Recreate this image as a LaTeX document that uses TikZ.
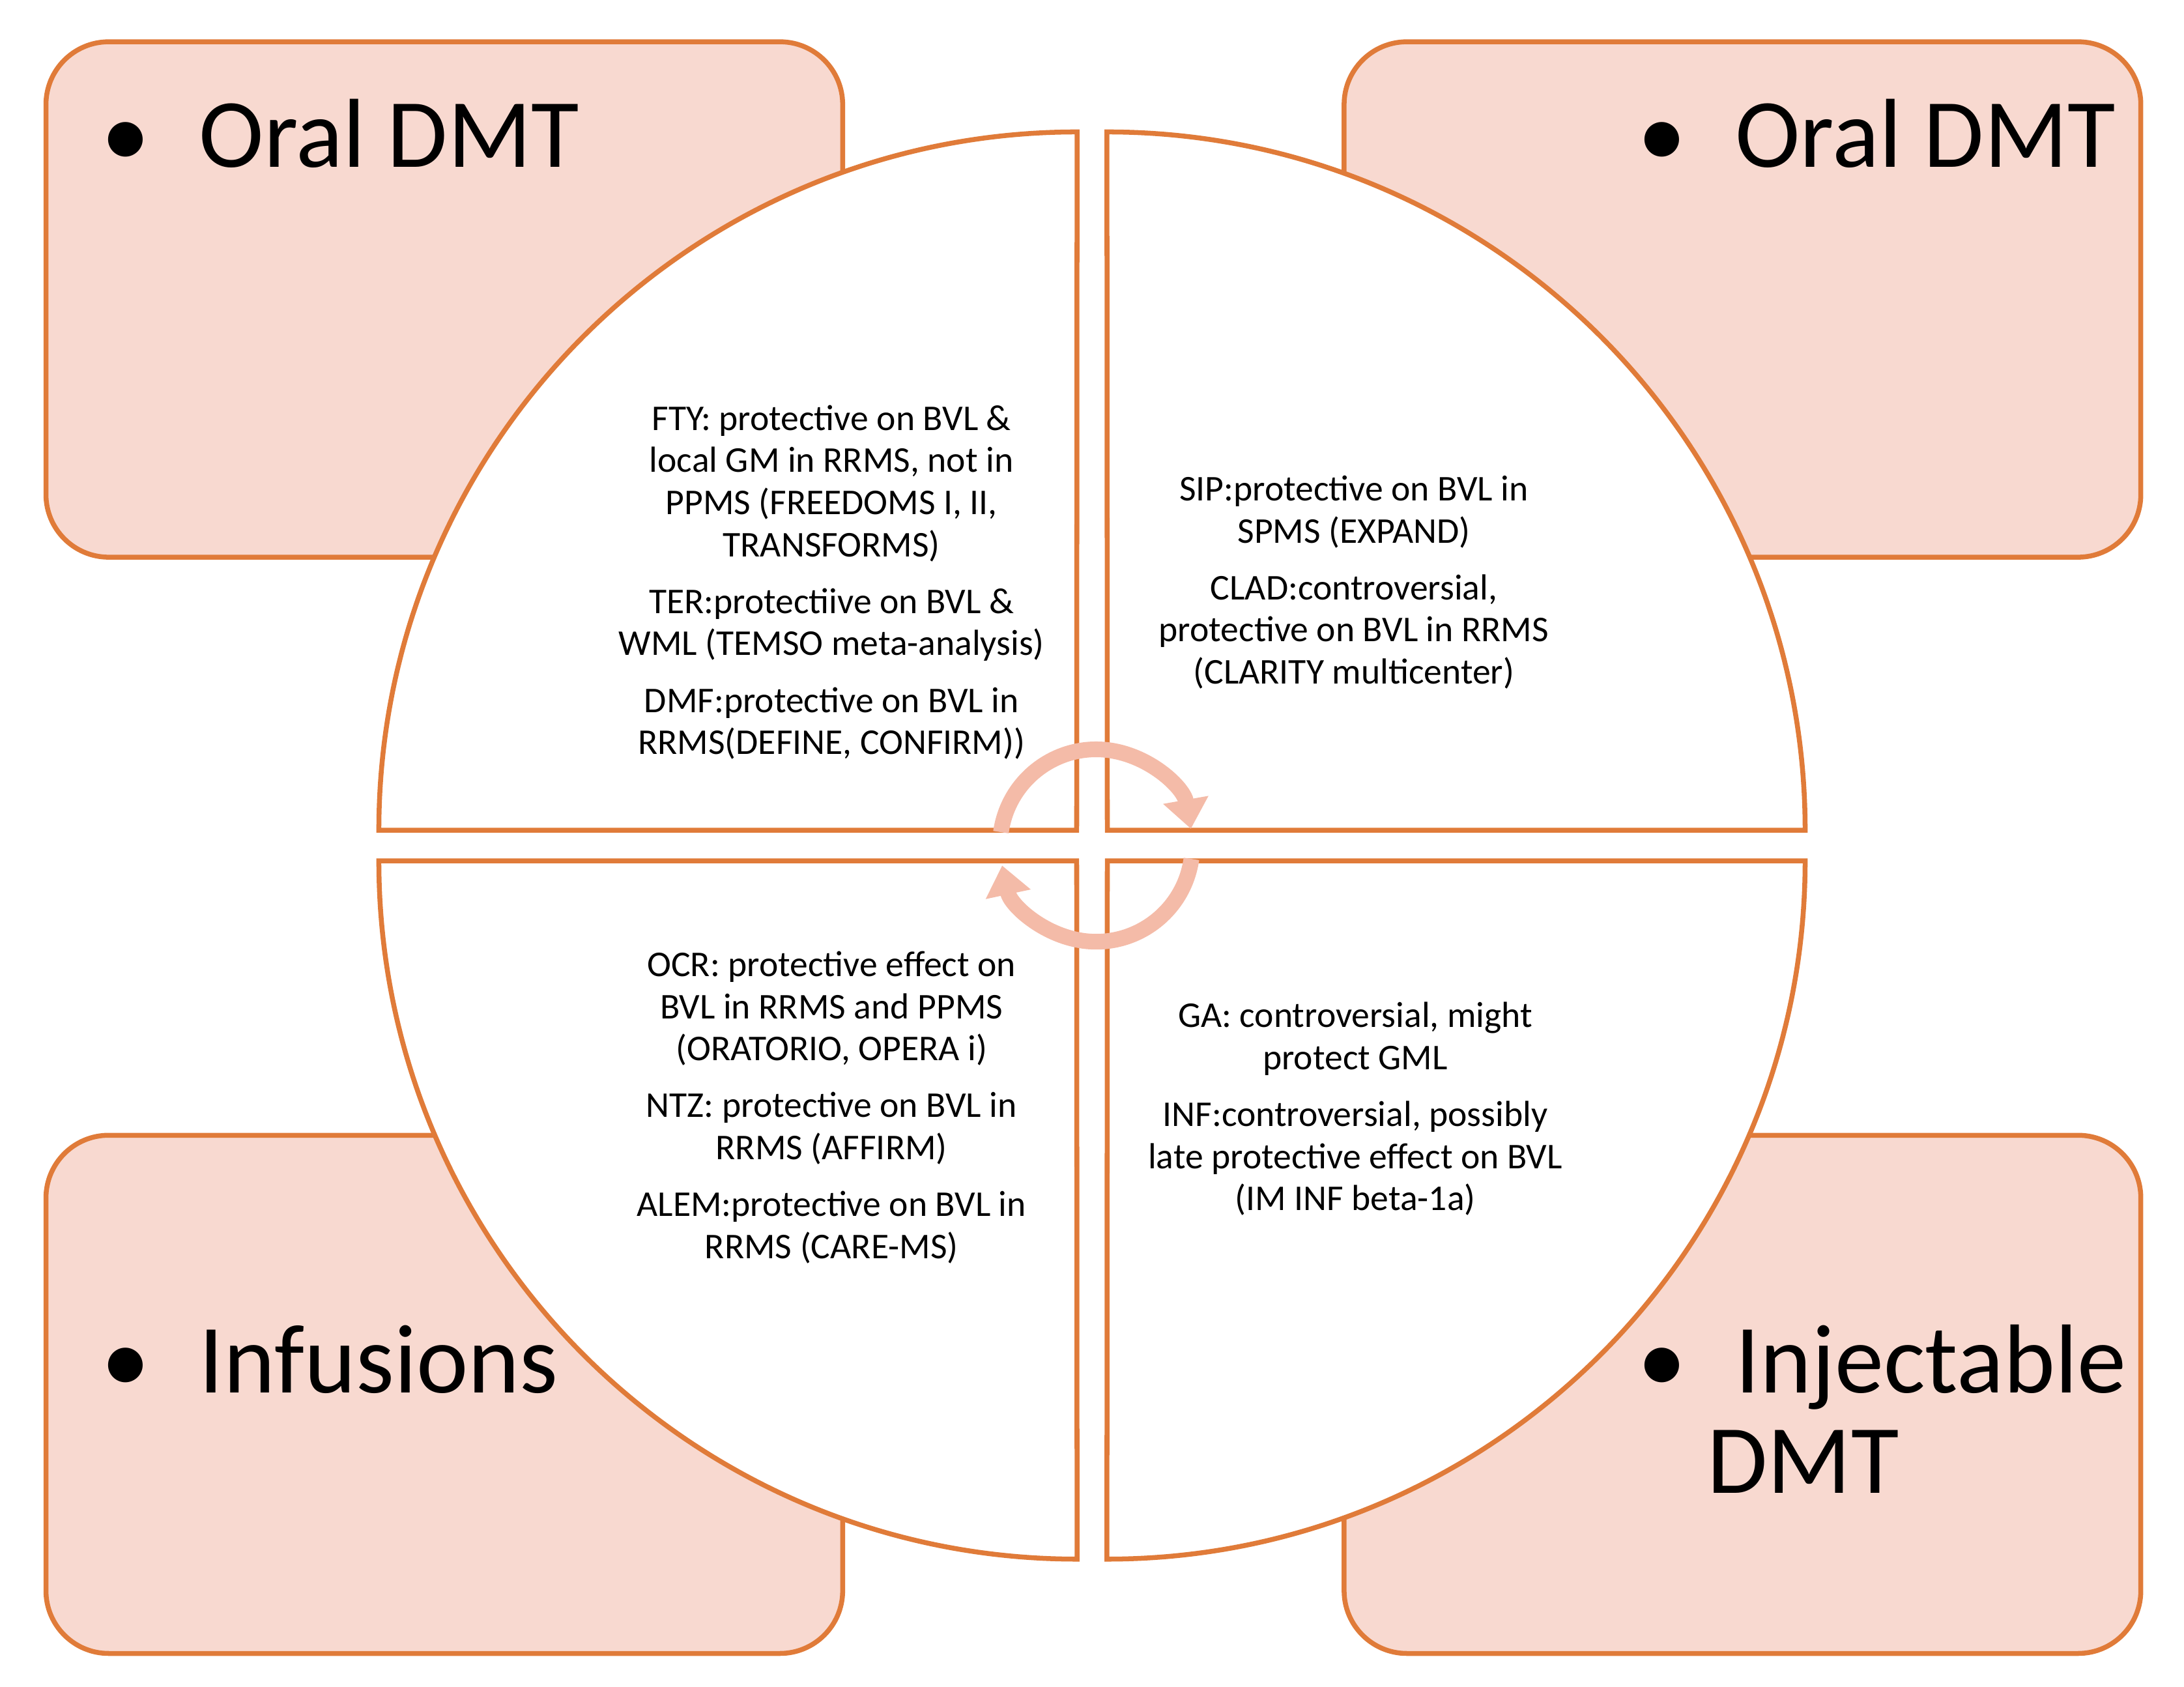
\documentclass[tikz,border=0pt]{standalone}
\usepackage{fontspec}
\setmainfont{Carlito}
\usetikzlibrary{arrows.meta}
\definecolor{edgeorange}{HTML}{E07B39}
\definecolor{boxpink}{HTML}{F8D9D0}
\definecolor{loopsalmon}{HTML}{F4BBA8}
\tikzset{
  groupbox/.style={draw=edgeorange,fill=boxpink,line width=1pt,rounded corners=0.45cm},
  quadrant/.style={draw=edgeorange,fill=white,line width=1pt},
  bigtext/.style={anchor=base west,font=\fontsize{20}{24}\selectfont,inner sep=0pt},
  notetext/.style={align=center,font=\fontsize{7.4}{8.6}\selectfont,inner sep=0pt},
  loop/.style={loopsalmon,line width=3.2pt,-{Triangle[length=6pt,width=9pt]}}
}
\begin{document}
\begin{tikzpicture}[x=0.01cm,y=0.01cm]
\useasboundingbox (0,0) rectangle (1568,1211);
% corner boxes
\draw [groupbox] (33,811) rectangle (605,1181);
\draw [groupbox] (965,811) rectangle (1537,1181);
\draw [groupbox] (33,24) rectangle (605,396);
\draw [groupbox] (965,24) rectangle (1537,396);
\node (oralA) [bigtext] at (72,1091) {\textbullet\hspace{0.5em}Oral DMT};
\node (oralB) [bigtext] at (1175,1091) {\textbullet\hspace{0.5em}Oral DMT};
\node (infus) [bigtext] at (72,211) {\textbullet\hspace{0.5em}Infusions};
\node (inject) [bigtext] at (1175,211) {\textbullet\hspace{0.5em}Injectable};
\node (injectB) [bigtext] at (1225,139) {DMT};
% quadrants
\draw [quadrant] (773,615) -- ++(-501,0) arc[start angle=180,end angle=90,radius=5.01cm] -- cycle;
\draw [quadrant] (795,615) -- ++(501,0) arc[start angle=0,end angle=90,radius=5.01cm] -- cycle;
\draw [quadrant] (773,593) -- ++(-501,0) arc[start angle=180,end angle=270,radius=5.01cm] -- cycle;
\draw [quadrant] (795,593) -- ++(501,0) arc[start angle=0,end angle=-90,radius=5.01cm] -- cycle;
% center loop
\draw [loop] (787,604) ++(172:0.69cm) arc[start angle=172,end angle=10,radius=0.69cm];
\draw [loop] (787,604) ++(-8:0.69cm) arc[start angle=-8,end angle=-168,radius=0.69cm];
% notes
\node (oralNotes) [notetext] at (597,793) {FTY: protective on BVL \&\\local GM in RRMS, not in\\PPMS (FREEDOMS I, II,\\TRANSFORMS)\\[3pt]
TER:protectiive on BVL \&\\WML (TEMSO meta-analysis)\\[3pt]DMF:protective on BVL in\\RRMS(DEFINE, CONFIRM))};
\node (oralNotesB) [notetext] at (972,793) {SIP:protective on BVL in\\SPMS (EXPAND)\\[3pt]CLAD:controversial,\\protective on BVL in RRMS\\(CLARITY multicenter)};
\node (infusNotes) [notetext] at (597,416) {OCR: protective effect on\\BVL in RRMS and PPMS\\(ORATORIO, OPERA i)\\[3pt]NTZ: protective on BVL in\\RRMS (AFFIRM)\\[3pt]ALEM:protective on BVL in\\RRMS (CARE-MS)};
\node (injectNotes) [notetext] at (973,415) {GA: controversial, might\\protect GML\\[3pt]INF:controversial, possibly\\late protective effect on BVL\\(IM INF beta-1a)};
\end{tikzpicture}
\end{document}
